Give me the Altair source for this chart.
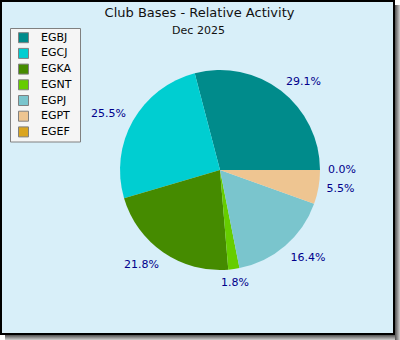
import math
import altair as alt
import pandas as pd

clubs = ["EGBJ", "EGCJ", "EGKA", "EGNT", "EGPJ", "EGPT", "EGEF"]
pcts = [29.1, 25.5, 21.8, 1.8, 16.4, 5.5, 0.0]
labels = ["29.1%", "25.5%", "21.8%", "1.8%", "16.4%", "5.5%", "0.0%"]
colors = ["#008B8B", "#00CED1", "#458B00", "#66CD00", "#7AC5CD", "#EEC591", "#DAA520"]
title_text = "Club Bases - Relative Activity"
subtitle_text = "Dec 2025"

FONT = "DejaVu Sans"
BG = "#D8EFF9"
total = sum(pcts)

# slices go counter-clockwise from 3 o'clock; Vega draws clockwise, so reverse the order
df = pd.DataFrame({
    "club": clubs,
    "pct": pcts,
    "label": labels,
    "ord": list(range(len(clubs)))[::-1],
})


def anchor_rule(a):
    """Label alignment relative to its anchor, like JpGraph's auto placement.
    a = mid angle of the slice in degrees, counter-clockwise from 3 o'clock."""
    a = a % 360
    if a >= 315 or a <= 45:
        dx = 0.0
    elif a <= 135:
        dx = (a - 45) / 90
    elif a <= 225:
        dx = 1.0
    else:
        dx = 1 - (a - 225) / 90
    if a >= 315:
        dy = (a - 315) / 90
    elif a <= 45:
        dy = 0.5 + a / 90
    elif a <= 135:
        dy = 1.0
    elif a <= 225:
        dy = 1 - (a - 135) / 90
    else:
        dy = 0.0
    align = "left" if dx < 0.25 else ("right" if dx > 0.75 else "center")
    base = "top" if dy < 0.25 else ("alphabetic" if dy > 0.75 else "middle")
    return align, base


# counter-clockwise mid angles (derived from the values)
groups = {}
cum = 0.0
for c, p in zip(clubs, pcts):
    mid = (cum + p / 2) / total * 360
    cum += p
    groups.setdefault(anchor_rule(mid), []).append(c)

one = pd.DataFrame({"k": [0]})

shadow_r = alt.Chart(one).mark_rect(
    color=alt.Gradient(gradient="linear", x1=0, x2=1, y1=0, y2=0,
                       stops=[alt.GradientStop(color="#505050", offset=0),
                              alt.GradientStop(color="#d0d0d0", offset=1)])
).encode(x=alt.value(395), x2=alt.value(400), y=alt.value(5), y2=alt.value(340))

shadow_b = alt.Chart(one).mark_rect(
    color=alt.Gradient(gradient="linear", x1=0, x2=0, y1=0, y2=1,
                       stops=[alt.GradientStop(color="#505050", offset=0),
                              alt.GradientStop(color="#d0d0d0", offset=1)])
).encode(x=alt.value(5), x2=alt.value(395), y=alt.value(335), y2=alt.value(340))

frame = alt.Chart(one).mark_rect(fill=BG, stroke="black", strokeWidth=2).encode(
    x=alt.value(1), x2=alt.value(394), y=alt.value(1), y2=alt.value(334)
)

legend_box = alt.Chart(one).mark_rect(fill="#F5F5F5", stroke="#808080", strokeWidth=1).encode(
    x=alt.value(10.5), x2=alt.value(80.5), y=alt.value(28.5), y2=alt.value(142)
)

title = alt.Chart(pd.DataFrame({"t": [title_text]})).mark_text(
    font=FONT, fontSize=13, color="#111111", baseline="alphabetic", align="center"
).encode(x=alt.value(199.5), y=alt.value(16.7), text="t:N")

subtitle = alt.Chart(pd.DataFrame({"t": [subtitle_text]})).mark_text(
    font=FONT, fontSize=11, color="#111111", baseline="alphabetic", align="center"
).encode(x=alt.value(198.5), y=alt.value(34.3), text="t:N")

theta_scale = alt.Scale(domain=[0, total], range=[math.pi / 2, math.pi / 2 + 2 * math.pi])

pie = alt.Chart(df).mark_arc(radius=100, stroke=None).encode(
    theta=alt.Theta("pct:Q", stack=True, scale=theta_scale),
    color=alt.Color(
        "club:N",
        scale=alt.Scale(domain=clubs, range=colors),
        legend=alt.Legend(
            title=None, orient="none", legendX=18, legendY=32.2,
            symbolType="square", symbolSize=100, symbolStrokeColor="#808080",
            symbolStrokeWidth=1, symbolOpacity=1,
            labelFont=FONT, labelFontSize=11, labelColor="black",
            labelOffset=12, rowPadding=0.7, padding=0, offset=0,
        ),
    ),
    order=alt.Order("ord:Q"),
    x=alt.value(220), y=alt.value(170),
)

text_layers = []
for (align, base), members in groups.items():
    t = alt.Chart(df).transform_window(
        cum="sum(pct)", sort=[alt.SortField("ord")], frame=[None, 0]
    ).transform_calculate(
        mid="datum.cum - datum.pct / 2"
    ).transform_filter(
        alt.FieldOneOfPredicate(field="club", oneOf=members)
    ).mark_text(
        radius=108, font=FONT, fontSize=11, color="#00008B", align=align, baseline=base
    ).encode(
        theta=alt.Theta("mid:Q", scale=theta_scale),
        text="label:N",
        x=alt.value(220), y=alt.value(170),
    )
    text_layers.append(t)

chart = alt.layer(
    shadow_r, shadow_b, frame, legend_box, title, subtitle, pie, *text_layers
).properties(
    width=400, height=340, autosize=alt.AutoSizeParams(type="none"), padding=0,
    background="white",
).configure_view(stroke=None)

chart.save("out.html", embed_options={"renderer": "svg", "actions": False})
